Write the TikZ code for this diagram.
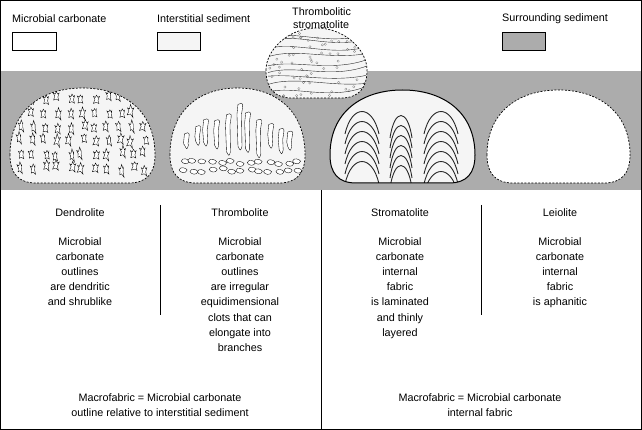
\documentclass[tikz,border=0pt]{standalone}
\usepackage{fontspec}
\setmainfont{Liberation Sans}
\begin{document}
\begin{tikzpicture}[x=1pt,y=-1pt,
  lbl/.style={font=\fontsize{10.8}{12.5}\selectfont,align=center,inner sep=0pt},
  dome/.style={draw,dashed,dash pattern=on 2pt off 1.5pt,line width=0.7pt},
  blob/.style={draw,fill=white,line width=0.35pt}]
\pgfmathsetseed{7}
\newcommand\domep[4]{(#1,#4-28) .. controls (#1,#3+22) and (#1+0.22*#2-0.22*#1,#3) .. ({(#1+#2)/2},#3) .. controls (#2-0.22*#2+0.22*#1,#3) and (#2,#3+22) .. (#2,#4-28) .. controls (#2,#4-10) and (#2-8,#4) .. (#2-26,#4) -- (#1+26,#4) .. controls (#1+8,#4) and (#1,#4-10) .. cycle}
\useasboundingbox (0,0) rectangle (642,430);
\fill[white] (0,0) rectangle (642,430);
\fill[gray!65] (0,71) rectangle (642,190);
\draw[line width=0.6pt] (0.3,0.3) rectangle (641.7,429.7);
% legend
\node[lbl,anchor=west] (l1) at (12,19) {Microbial carbonate};
\node[lbl,anchor=west] (l2) at (157,19) {Interstitial sediment};
\node[lbl,anchor=west] (l3) at (502,19) {Surrounding sediment};
\node[lbl,anchor=west,align=left] (l4) at (292,18) {Thrombolitic\\\hspace*{1pt}stromatolite};
\node[draw,fill=white,minimum width=44pt,minimum height=18pt,anchor=north west] (b1) at (12,32) {};
\node[draw,fill=gray!8,minimum width=43pt,minimum height=18pt,anchor=north west] (b2) at (157,32) {};
\node[draw,fill=gray!65,minimum width=43pt,minimum height=18pt,anchor=north west] (b3) at (502,32) {};
% thrombolitic stromatolite dome
\fill[gray!8] \domep{266}{367}{28}{98};
\begin{scope}
\clip \domep{266}{367}{28}{98};
\foreach \i in {0,...,70}{\draw[gray,line width=0.25pt] (266+rnd*100,30+rnd*68) circle (1.2pt);}
\foreach \j in {0,...,8}{\draw[gray!30!black,line width=0.4pt] (268,36+\j*7+rand*2) .. controls (295,28+\j*7+rand*4) and (330,42+\j*7+rand*4) .. (366,32+\j*7+rand*3);}
\end{scope}
\draw[dome] \domep{266}{367}{28}{98};
% dendrolite
\fill[gray!8] \domep{10}{155}{88}{183};
\begin{scope}
\clip \domep{10}{155}{88}{183};
\foreach \c in {0,...,10}{\foreach \r in {0,...,5}{
 \pgfmathsetmacro\xx{20+\c*12.5+rand*3}\pgfmathsetmacro\yy{98+\r*14+rand*3}
 \pgfmathsetmacro\a{1.5+rnd*2}\pgfmathsetmacro\b{4+rnd*3}
 \draw[blob] (\xx,\yy-\b) -- (\xx+1.5,\yy-2) -- (\xx+\a,\yy-3) -- (\xx+1.5,\yy+1) -- (\xx+2.5,\yy+\b) -- (\xx,\yy+3) -- (\xx-\a,\yy+4) -- (\xx-1.5,\yy) -- (\xx-3,\yy-3) -- (\xx-1,\yy-2) -- cycle;}}
\end{scope}
\draw[dome] \domep{10}{155}{88}{183};
% thrombolite
\fill[gray!8] \domep{170}{305}{88}{183};
\begin{scope}
\clip \domep{170}{305}{88}{183};
\foreach \c in {0,...,10}{
 \pgfmathsetmacro\xx{185+\c*10.5+rand*2}\pgfmathsetmacro\top{108+abs(\c-5)*5+rand*4}
 \pgfmathsetmacro\bot{140+rnd*14}
 \draw[blob] (\xx-1.5,\top) .. controls (\xx+4,\top-2) .. (\xx+2,\top+10) -- (\xx+2.5,\bot) .. controls (\xx+1,\bot+5) .. (\xx-1.5,\bot) -- (\xx-2.5,\top+10) -- cycle;}
\foreach \c in {0,...,12}{\foreach \r in {0,1}{
 \pgfmathsetmacro\xx{184+\c*9.5+rand*2}\pgfmathsetmacro\yy{162+\r*8+rand*2}
 \draw[blob] (\xx-4,\yy) .. controls (\xx-3,\yy-4) and (\xx+3,\yy-2) .. (\xx+4,\yy) .. controls (\xx+3,\yy+4) and (\xx-3,\yy+3) .. cycle;}}
\end{scope}
\draw[dome] \domep{170}{305}{88}{183};
% stromatolite
\fill[gray!8] \domep{330}{475}{90}{183};
\begin{scope}
\clip \domep{330}{475}{90}{183};
\foreach \cx/\t/\n/\w in {362/110/5/17,401/114/5/11,441/110/6/17}{
 \foreach \k in {0,...,\n}{
  \draw[gray!30!black,line width=0.9pt] (\cx-\w,\t+\k*10+24) .. controls (\cx-0.6*\w,\t+\k*10-6) and (\cx+0.6*\w,\t+\k*10-6) .. (\cx+\w,\t+\k*10+24);}}
\end{scope}
\draw[line width=1pt] \domep{330}{475}{90}{183};
% leiolite
\fill[white] \domep{487}{630}{90}{183};
\draw[dome] \domep{487}{630}{90}{183};
% dividers
\coordinate (m1) at (321,190); \coordinate (m2) at (321,430);
\draw[line width=0.6pt] (m1) -- (m2);
\coordinate (d1) at (160,205); \coordinate (d2) at (160,315);
\coordinate (d3) at (481,205); \coordinate (d4) at (481,315);
\draw[line width=0.6pt] (d1) -- (d2);
\draw[line width=0.6pt] (d3) -- (d4);
% column texts
\node[lbl] (t1) at (80,213) {Dendrolite};
\node[lbl] (t2) at (240,213) {Thrombolite};
\node[lbl] (t3) at (400,213) {Stromatolite};
\node[lbl] (t4) at (560,213) {Leiolite};
\begin{scope}[lbl/.append style={font=\fontsize{10.8}{15.2}\selectfont,anchor=north}]
\node[lbl] (p1) at (80,237) {Microbial\\carbonate\\outlines\\are dendritic\\and shrublike};
\node[lbl] (p2) at (240,237) {Microbial\\carbonate\\outlines\\are irregular\\equidimensional\\clots that can\\elongate into\\branches};
\node[lbl] (p3) at (400,237) {Microbial\\carbonate\\internal\\fabric\\is laminated\\and thinly\\layered};
\node[lbl] (p4) at (560,237) {Microbial\\carbonate\\internal\\fabric\\is aphanitic};
\node[lbl] (q1) at (160,393) {Macrofabric = Microbial carbonate\\outline relative to interstitial sediment};
\node[lbl] (q2) at (480,393) {Macrofabric = Microbial carbonate\\internal fabric};
\end{scope}
\end{tikzpicture}
\end{document}
